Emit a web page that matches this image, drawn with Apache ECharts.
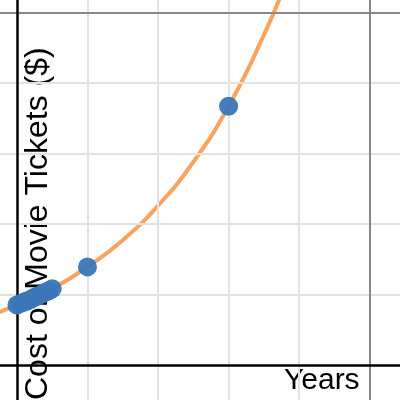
<!DOCTYPE html>
<html>
<head>
<meta charset="UTF-8">
<script src="https://cdn.jsdelivr.net/npm/echarts@6/dist/echarts.min.js"></script>
<style>html,body{margin:0;padding:0;background:#fff}</style>
</head>
<body>
<div id="main" style="width:400px;height:400px;"></div>
<script>
var gridX = [1, 2, 3, 4];
var gridY = [1, 2, 3, 4];
var majorX = [5];
var majorY = [5];
var ptX = [0, 0.05, 0.1, 0.15, 0.2, 0.25, 0.3, 0.35, 0.4, 0.45, 0.5, 1, 3];
var ptY = [0.85, 0.87, 0.89, 0.91, 0.93, 0.96, 0.98, 1.0, 1.03, 1.05, 1.08, 1.39, 3.67];
var curveX = [-0.3, 0, 0.5, 1, 1.5, 2, 2.5, 3, 3.5, 3.8];
var curveY = [0.73, 0.85, 1.08, 1.39, 1.77, 2.26, 2.88, 3.67, 4.68, 5.4];

var chart = echarts.init(document.getElementById('main'));

function vlines(xs, color, w) {
  return xs.map(function (v) { return { xAxis: v, lineStyle: { color: color, width: w, type: 'solid' } }; });
}
function hlines(ys, color, w) {
  return ys.map(function (v) { return { yAxis: v, lineStyle: { color: color, width: w, type: 'solid' } }; });
}

chart.setOption({
  animation: false,
  grid: { left: 0, right: 0, top: 0, bottom: 0 },
  xAxis: { type: 'value', min: -0.24, max: 5.43, show: false },
  yAxis: { type: 'value', min: -0.5, max: 5.18, show: false },
  series: [
    {
      type: 'line', data: [], silent: true,
      markLine: {
        symbol: 'none', silent: true, label: { show: false },
        data: vlines(gridX, '#e2e2e2', 2).concat(hlines(gridY, '#e2e2e2', 2))
          .concat(vlines(majorX, '#888', 2)).concat(hlines(majorY, '#888', 2))
          .concat(vlines([0], '#000', 2.5)).concat(hlines([0], '#000', 2.5))
      }
    },
    {
      type: 'line', smooth: true, showSymbol: false, silent: true,
      data: curveX.map(function (x, i) { return [x, curveY[i]]; }),
      lineStyle: { color: '#fba35e', width: 4 }
    },
    {
      type: 'scatter', symbolSize: 19, z: 10,
      data: ptX.map(function (x, i) { return [x, ptY[i]]; }),
      itemStyle: { color: '#3b76b7', opacity: 0.95 }
    }
  ],
  graphic: [
    { type: 'text', left: 284, top: 366, z: 1,
      style: { text: 'Years', font: '30px "Liberation Sans", Arial', fill: '#000' } },
    { type: 'text', x: 22, y: 400, rotation: Math.PI / 2, z: 1,
      style: { text: 'Cost of Movie Tickets ($)', font: '32px "Liberation Sans", Arial', fill: '#000', textBaseline: 'top' } }
  ]
});
</script>
</body>
</html>
